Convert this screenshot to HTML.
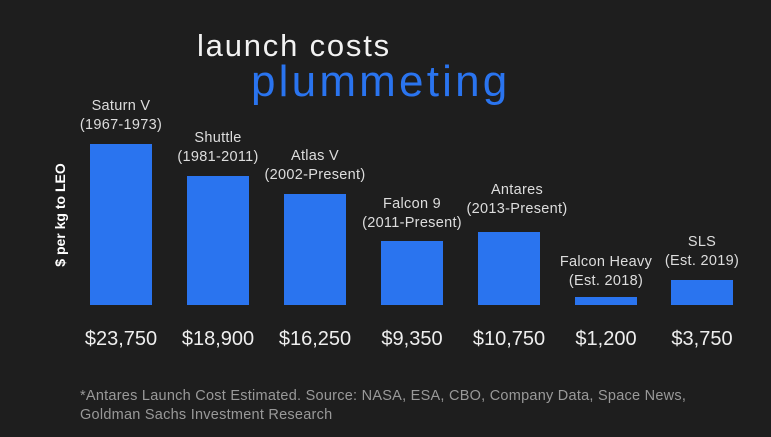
<!DOCTYPE html>
<html><head><style>
body{margin:0;width:771px;height:437px;background:#1e1e1e;overflow:hidden;position:relative;font-family:"Liberation Sans","DejaVu Sans",sans-serif;}
.t{position:absolute;white-space:nowrap;}
.bar{position:absolute;background:#2a74ef;width:62px;}
.lab{position:absolute;width:140px;text-align:center;color:#ddd;font-size:14.5px;line-height:19px;letter-spacing:0.3px;}
.val{position:absolute;width:120px;text-align:center;color:#eee;font-size:20px;top:328px;}
</style></head><body>
<div class="t" style="left:197px;top:28px;font-size:31px;color:#f2f2f2;letter-spacing:1.8px;">launch costs</div>
<div class="t" style="left:251px;top:57px;font-size:44px;color:#2a74ef;letter-spacing:3.2px;">plummeting</div>
<div class="t" style="left:60px;top:215px;transform:translate(-50%,-50%) rotate(-90deg);font-size:14px;font-weight:bold;color:#fff;">$ per kg to LEO</div>

<div class="bar" style="left:90px;top:144px;height:161px"></div>
<div class="bar" style="left:187px;top:176px;height:129px"></div>
<div class="bar" style="left:284px;top:194px;height:111px"></div>
<div class="bar" style="left:381px;top:241px;height:64px"></div>
<div class="bar" style="left:478px;top:232px;height:73px"></div>
<div class="bar" style="left:575px;top:297px;height:8px"></div>
<div class="bar" style="left:671px;top:280px;height:25px"></div>

<div class="lab" style="left:51px;top:97px">Saturn V<br>(1967-1973)</div>
<div class="lab" style="left:148px;top:129px">Shuttle<br>(1981-2011)</div>
<div class="lab" style="left:245px;top:147px">Atlas V<br>(2002-Present)</div>
<div class="lab" style="left:342px;top:195px">Falcon 9<br>(2011-Present)</div>
<div class="lab" style="left:447px;top:181px">Antares<br>(2013-Present)</div>
<div class="lab" style="left:536px;top:253px">Falcon Heavy<br>(Est. 2018)</div>
<div class="lab" style="left:632px;top:233px">SLS<br>(Est. 2019)</div>

<div class="val" style="left:61px">$23,750</div>
<div class="val" style="left:158px">$18,900</div>
<div class="val" style="left:255px">$16,250</div>
<div class="val" style="left:352px">$9,350</div>
<div class="val" style="left:449px">$10,750</div>
<div class="val" style="left:546px">$1,200</div>
<div class="val" style="left:642px">$3,750</div>

<div class="t" style="left:80px;top:387px;font-size:14.5px;line-height:19px;color:#999;letter-spacing:0.25px;">*Antares Launch Cost Estimated. Source: NASA, ESA, CBO, Company Data, Space News,<br>Goldman Sachs Investment Research</div>
</body></html>
